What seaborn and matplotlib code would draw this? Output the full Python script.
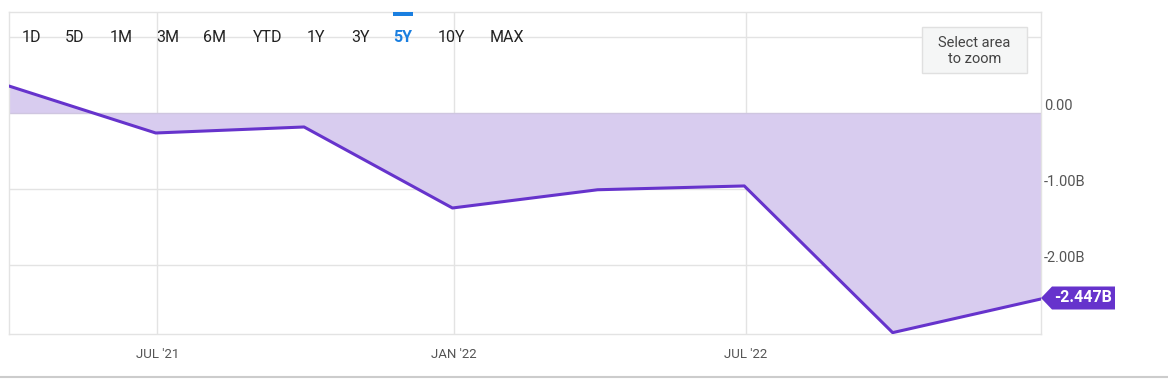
import numpy as np
import pandas as pd
import seaborn as sns
import matplotlib.pyplot as plt
from matplotlib.patches import Polygon, FancyBboxPatch

# quarterly values, in billions
dates = ["2021-03-31", "2021-06-30", "2021-09-30", "2021-12-31",
         "2022-03-31", "2022-06-30", "2022-09-30", "2022-12-31"]
values = [0.355, -0.263, -0.184, -1.25, -1.01, -0.96, -2.89, -2.447]
ytick_vals = [0, -1, -2]
ytick_labels = ["0.00", "-1.00B", "-2.00B"]
xtick_dates = ["2021-07-01", "2022-01-01", "2022-07-01"]
xtick_labels = ["JUL '21", "JAN '22", "JUL '22"]
buttons = ["1D", "5D", "1M", "3M", "6M", "YTD", "1Y", "3Y", "5Y", "10Y", "MAX"]
button_x = [31, 75, 121, 168, 215, 268, 316, 360, 403, 451, 507]
last_label = "-2.447B"

df = pd.DataFrame({"date": pd.to_datetime(dates), "value": values})

sns.set_style("white")
plt.rcParams['font.family'] = ['Roboto', 'DejaVu Sans']

line_c = "#6633cc"
fill_c = "#d8ccef"
grid_c = "#e3e3e3"

fig = plt.figure(figsize=(11.68, 3.83), dpi=100)
ax = fig.add_axes([9 / 1168, 49 / 383, 1032 / 1168, 322 / 383])

ax.fill_between(df["date"], df["value"], 0, color=fill_c, linewidth=0, zorder=1)
sns.lineplot(data=df, x="date", y="value", ax=ax, color=line_c, linewidth=2.2, zorder=3)

ax.set_xlim(df["date"].iloc[0], df["date"].iloc[-1])
ax.set_ylim(-2.908, 1.329)

for v in [1, 0, -1, -2]:
    ax.axhline(v, color=grid_c if v != 0 else "#cfc6e0", linewidth=1, zorder=2 if v == 0 else 0)
for d in xtick_dates:
    ax.axvline(pd.Timestamp(d), color=grid_c, linewidth=1, zorder=0)

ax.yaxis.tick_right()
ax.set_yticks(ytick_vals)
ax.set_yticklabels(ytick_labels, color="#555555", fontsize=10.5)
for t in ax.get_yticklabels():
    t.set_verticalalignment("bottom")
ax.set_xticks(pd.to_datetime(xtick_dates))
ax.set_xticklabels(xtick_labels, color="#555555", fontsize=9.5)
ax.tick_params(axis="both", length=0)
ax.tick_params(axis="y", pad=2)
ax.tick_params(axis="x", pad=10)
ax.set_xlabel("")
ax.set_ylabel("")
for s in ax.spines.values():
    s.set_color(grid_c)
    s.set_linewidth(1)

# range buttons
for lbl, x in zip(buttons, button_x):
    active = lbl == "5Y"
    fig.text(x / 1168, 1 - 37 / 383, lbl, ha="center", va="center",
             fontsize=11.5, color="#1a7fe0" if active else "#222222",
             fontweight="bold" if active else "normal")
fig.patches.append(FancyBboxPatch((393 / 1168, 1 - 16 / 383), 20 / 1168, 4 / 383,
                                  boxstyle="square,pad=0", transform=fig.transFigure,
                                  facecolor="#1a7fe0", edgecolor="none"))

# zoom hint box
fig.patches.append(FancyBboxPatch((922 / 1168, 1 - 73 / 383), 105 / 1168, 46 / 383,
                                  boxstyle="square,pad=0", transform=fig.transFigure,
                                  facecolor="#f5f6f6", edgecolor="#e0e0e0", linewidth=1))
fig.text(974.5 / 1168, 1 - 51 / 383, "Select area\nto zoom", ha="center", va="center",
         fontsize=10.5, color="#444444", linespacing=1.15)

# last value tag
x0, y0 = 1041, 298
tag = [(x0, y0), (x0 + 11, y0 - 11.5), (1115, y0 - 11.5), (1115, y0 + 11.5), (x0 + 11, y0 + 11.5)]
fig.patches.append(Polygon([(px / 1168, 1 - py / 383) for px, py in tag], closed=True,
                           transform=fig.transFigure, facecolor="#6633cc", edgecolor="none"))
fig.text(1083 / 1168, 1 - y0 / 383, last_label, ha="center", va="center",
         fontsize=11.5, color="white", fontweight="bold")

# bottom separator
fig.add_artist(plt.Line2D([0, 1], [1 - 377 / 383, 1 - 377 / 383], transform=fig.transFigure,
                          color="#cccccc", linewidth=1.5))

fig.savefig("out.png", dpi=100)
